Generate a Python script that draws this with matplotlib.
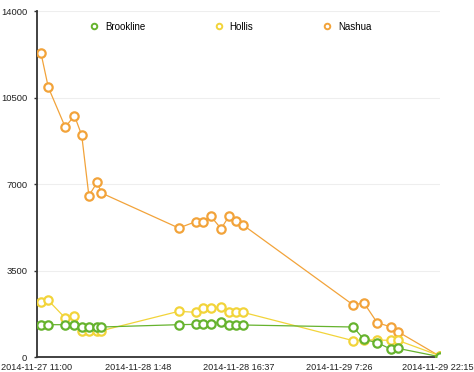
import matplotlib
matplotlib.use("Agg")
import matplotlib.pyplot as plt
import matplotlib.dates as mdates
import matplotlib.transforms as mtransforms
from matplotlib.lines import Line2D
import pandas as pd

plt.rcParams['font.family'] = ['Liberation Sans', 'DejaVu Sans']

times = pd.to_datetime([
    "2014-11-27 11:35", "2014-11-27 12:40", "2014-11-27 15:09", "2014-11-27 16:31",
    "2014-11-27 17:35", "2014-11-27 18:38", "2014-11-27 19:51", "2014-11-27 20:29",
    "2014-11-28 07:51", "2014-11-28 10:20", "2014-11-28 11:25", "2014-11-28 12:32",
    "2014-11-28 14:05", "2014-11-28 15:15", "2014-11-28 16:18", "2014-11-28 17:18",
    "2014-11-29 09:31", "2014-11-29 11:04", "2014-11-29 13:02", "2014-11-29 15:06",
    "2014-11-29 16:05", "2014-11-29 22:15",
])

brookline = [1308, 1308, 1308, 1308, 1214, 1214, 1214, 1214,
             1308, 1321, 1321, 1335, 1416, 1308, 1308, 1295,
             1214, 715, 580, 310, 350, 10]
hollis = [2238, 2293, 1578, 1671, 1064, 1064, 1064, 1064,
          1849, 1808, 1983, 1983, 2023, 1820, 1820, 1808,
          660, 700, 688, 672, 672, 50]
nashua = [12301, 10913, 9306, 9763, 8970, 6526, 7068, 6636,
          5219, 5474, 5474, 5705, 5191, 5705, 5515, 5341,
          2104, 2197, 1388, 1214, 1024, 30]

series_names = ["Brookline", "Hollis", "Nashua"]
series_colors = ["#66b32e", "#f2d43a", "#f2a33a"]

x_start = pd.Timestamp("2014-11-27 11:00")
x_end = pd.Timestamp("2014-11-29 22:15")
x_tick_labels = ["2014-11-27 11:00", "2014-11-28 1:48", "2014-11-28 16:37",
                 "2014-11-29 7:26", "2014-11-29 22:15"]
y_ticks = [0, 3500, 7000, 10500, 14000]

fig = plt.figure(figsize=(4.74, 3.72), dpi=100)
ax = fig.add_axes([0.078, 0.0403, 0.85, 0.9301])

data = {"Brookline": brookline, "Hollis": hollis, "Nashua": nashua}
for name, color in zip(reversed(series_names), reversed(series_colors)):
    ax.plot(times, data[name], color=color, lw=0.9, marker='o', ms=6,
            mfc='white', mec=color, mew=1.6, zorder=3)

ax.set_xlim(x_start, x_end)
ax.set_ylim(0, 14000)
ticks = pd.date_range(x_start, x_end, periods=5)
ax.set_xticks(mdates.date2num(ticks))
ax.set_xticklabels(x_tick_labels, fontsize=6.6, color='#222222')
ax.set_yticks(y_ticks)
ax.set_yticklabels([str(v) for v in y_ticks], fontsize=6.8, color='#222222')
ax.tick_params(axis='x', length=0, pad=4)
ax.tick_params(axis='y', length=2.5, width=1, color='#333333', pad=4.5)

last = ax.get_xticklabels()[-1]
last.set_transform(last.get_transform() +
                   mtransforms.ScaledTranslation(-2.5 / 100, 0, fig.dpi_scale_trans))

ax.grid(axis='y', color='#eeeeee', lw=0.8, zorder=0)
for s in ['top', 'right']:
    ax.spines[s].set_visible(False)
for s in ['left', 'bottom']:
    ax.spines[s].set_color('#333333')
    ax.spines[s].set_linewidth(1.3)

handles = [Line2D([], [], ls='none', marker='o', ms=4, mfc='white', mec=c, mew=1.4)
           for c in series_colors]
ax.legend(handles, series_names, loc='center left', bbox_to_anchor=(0.108, 0.955),
          ncol=3, frameon=False, fontsize=7, handlelength=1.0, handletextpad=0.6,
          columnspacing=7.1)

fig.savefig("out.png", dpi=100)
